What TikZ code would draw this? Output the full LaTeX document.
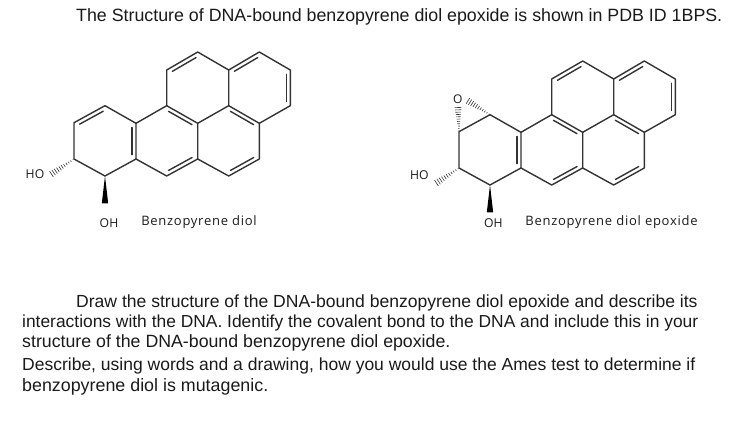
\documentclass[tikz,border=0pt]{standalone}
\usepackage{fontspec}
\setmainfont{Liberation Sans}
\newfontfamily\labelfont{Open Sans}
\newfontfamily\capfont[LetterSpace=5.6]{Open Sans}
\usetikzlibrary{calc}
\definecolor{bondc}{HTML}{333333}
\definecolor{textc}{HTML}{1A1A1A}
\newcommand{\fs}[1]{\fontsize{#1}{20}\selectfont}
\tikzset{
  bond/.style={draw=bondc,line width=1.4pt,line cap=round,line join=round},
  hashb/.style={draw=bondc,line width=.6pt},
  wedgeb/.style={fill=black,draw=none},
  para/.style={anchor=base west,inner sep=0,text=textc},
  atom/.style={inner sep=0,text=textc,font=\labelfont\fontsize{12.2}{14}\selectfont},
  caption/.style={inner sep=0,text=textc,font=\capfont\fontsize{13}{15}\selectfont},
}
\newcommand{\dbl}[3]{\draw[bond] ($(#1)!.12!(#2)!4pt!#3:(#2)$) -- ($(#2)!.12!(#1)!4pt!-#3:(#1)$);}
\newcommand{\hashbond}[2]{%
  \foreach \t/\w in {.04/.4,.13/.7,.22/1,.31/1.3,.40/1.6,.49/1.9,.58/2.2,.67/2.5,.76/2.8,.85/3.1,.94/3.4}{%
    \draw[hashb] ($(#1)!\t!(#2)!\w pt!90:(#2)$) -- ($(#1)!\t!(#2)!\w pt!-90:(#2)$);}}
\newcommand{\wedgebond}[2]{\fill[wedgeb] (#1) -- ($(#2)!3.2pt!90:(#1)$) -- ($(#2)!3.2pt!-90:(#1)$) -- cycle;}
\newcommand{\atoms}[3]{%
  \coordinate (#1A) at (74+#2,122.7+#3);
  \coordinate (#1B) at (105+#2,105.7+#3);
  \coordinate (#1C) at (136+#2,123.3+#3);
  \coordinate (#1D) at (136+#2,159+#3);
  \coordinate (#1E) at (105+#2,176+#3);
  \coordinate (#1F) at (74+#2,159+#3);
  \coordinate (#1G) at (166.7+#2,105.7+#3);
  \coordinate (#1H) at (197.7+#2,123.3+#3);
  \coordinate (#1I) at (197.7+#2,159+#3);
  \coordinate (#1J) at (166.7+#2,176+#3);
  \coordinate (#1K) at (166.7+#2,70+#3);
  \coordinate (#1L) at (197.7+#2,52+#3);
  \coordinate (#1M) at (228.7+#2,70+#3);
  \coordinate (#1N) at (228.7+#2,105.7+#3);
  \coordinate (#1O) at (259.3+#2,52+#3);
  \coordinate (#1P) at (290.3+#2,70+#3);
  \coordinate (#1Q) at (290.3+#2,105.7+#3);
  \coordinate (#1R) at (259.3+#2,123.3+#3);
  \coordinate (#1S) at (259.3+#2,159+#3);
  \coordinate (#1T) at (228.7+#2,176+#3);
  \coordinate (#1W) at (105+#2,203.5+#3);
  \draw[bond] (#1A)--(#1B)--(#1C)--(#1D)--(#1E)--(#1F)--cycle;
  \draw[bond] (#1C)--(#1G)--(#1H)--(#1I)--(#1J)--(#1D);
  \draw[bond] (#1G)--(#1K)--(#1L)--(#1M)--(#1N)--(#1H);
  \draw[bond] (#1M)--(#1O)--(#1P)--(#1Q)--(#1R)--(#1N);
  \draw[bond] (#1R)--(#1S)--(#1T)--(#1I);
  \dbl{#1C}{#1D}{-90}
  \dbl{#1G}{#1H}{-90}
  \dbl{#1J}{#1I}{90}
  \dbl{#1K}{#1L}{-90}
  \dbl{#1M}{#1O}{-90}
  \dbl{#1P}{#1Q}{-90}
  \dbl{#1N}{#1R}{-90}
  \dbl{#1T}{#1S}{90}
  \wedgebond{#1E}{#1W}
}
\begin{document}
\begin{tikzpicture}[x=1pt,y=-1pt]
\useasboundingbox (0,0) rectangle (742,427);
\node[para,font=\fs{17.8}] (title) at (76,21.5) {The Structure of DNA-bound benzopyrene diol epoxide is shown in PDB ID 1BPS.};

% left molecule
\atoms{a}{0}{0}
\dbl{aA}{aB}{-90}
\coordinate (aH1) at (50,175);
\hashbond{aF}{aH1}
\node[atom] (aho) at (35,174.5) {HO};
\node[atom] (aoh) at (109,223) {OH};
\node[caption] (acap) at (199,222) {Benzopyrene diol};

% right molecule
\atoms{b}{385}{9}
\coordinate (bH1) at (435,184);
\hashbond{bF}{bH1}
\node[atom] (bho) at (419.3,175) {HO};
\node[atom] (boh) at (493.3,223) {OH};
\node[atom,font=\labelfont\fontsize{12}{14}\selectfont] (box) at (457.7,99) {O};
\coordinate (bO1) at (458,106);
\coordinate (bO2) at (466.5,100);
\hashbond{bA}{bO1}
\hashbond{bB}{bO2}
\node[caption] (bcap) at (611.5,222) {Benzopyrene diol epoxide};

\node[para,font=\fs{17.55}] (p1) at (76,307.5) {Draw the structure of the DNA-bound benzopyrene diol epoxide and describe its};
\node[para,font=\fs{17.4}] (p2) at (22,328) {interactions with the DNA. Identify the covalent bond to the DNA and include this in your};
\node[para,font=\fs{17.75}] (p3) at (22,348) {structure of the DNA-bound benzopyrene diol epoxide.};
\node[para,font=\fs{17.5}] (p4) at (22,370.5) {Describe, using words and a drawing, how you would use the Ames test to determine if};
\node[para,font=\fs{17.85}] (p5) at (22,391.5) {benzopyrene diol is mutagenic.};
\end{tikzpicture}
\end{document}
